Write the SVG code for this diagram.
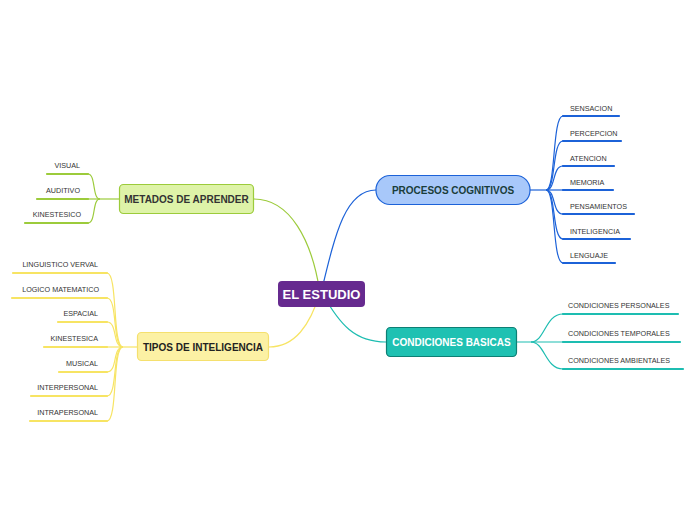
<svg xmlns="http://www.w3.org/2000/svg" width="696" height="520" viewBox="0 0 696 520">
<style>
.c{fill:none;stroke-width:1.2}
.u{fill:none;stroke-width:2.2;stroke-linecap:round}
.lime{stroke:#9ccb3b}.blue{stroke:#1c62d8}.yel{stroke:#f7e463}.teal{stroke:#1dbdb1}
.t{font-family:"Liberation Sans",Arial,sans-serif;font-size:7.2px;fill:#333}
.m{font-family:"Liberation Sans",Arial,sans-serif;font-size:10px;font-weight:bold;text-anchor:middle}
</style>
<rect width="696" height="520" fill="#ffffff"/>
<g id="connectors">
<path class="c lime" d="M320,293 C312,240 290,199 254,199"/>
<path class="c blue" d="M321,293 C335,235 345,190 376,190"/>
<path class="c yel" d="M320,293 C310,325 295,347 269,347"/>
<path class="c teal" d="M322,293 C340,325 355,342 386,342"/>
<!-- blue children -->
<path class="c blue" d="M530,190 L546,190"/>
<path class="c blue" d="M546,190 C556,190 552,116 563,116"/>
<path class="c blue" d="M546,190 C556,190 552,141 563,141"/>
<path class="c blue" d="M546,190 C556,190 552,166 563,166"/>
<path class="c blue" d="M546,190 L563,190"/>
<path class="c blue" d="M546,190 C556,190 552,214 563,214"/>
<path class="c blue" d="M546,190 C556,190 552,239 563,239"/>
<path class="c blue" d="M546,190 C556,190 552,263 563,263"/>
<path class="u blue" d="M563,116 H619 M563,141 H621 M563,166 H614 M563,190 H613 M563,214 H634 M563,239 H630 M563,263 H615"/>
<!-- teal children -->
<path class="c teal" d="M517,342 L563,342"/>
<path class="c teal" d="M531,342 C545,342 545,314 563,314"/>
<path class="c teal" d="M531,342 C545,342 545,369 563,369"/>
<path class="u teal" d="M563,314 H678 M563,342 H680 M563,369 H683"/>
<!-- lime children -->
<path class="c lime" d="M119,199 L88,199"/>
<path class="c lime" d="M100,199 C92,199 96,174 88,174"/>
<path class="c lime" d="M100,199 C92,199 96,223 88,223"/>
<path class="u lime" d="M47,174 H88 M37,199 H88 M25,223 H88"/>
<!-- yellow children -->
<path class="c yel" d="M137,347 L107,347"/>
<path class="c yel" d="M123,347 C112,347 118,273 107,273"/>
<path class="c yel" d="M123,347 C112,347 118,298 107,298"/>
<path class="c yel" d="M123,347 C112,347 118,322 107,322"/>
<path class="c yel" d="M123,347 C112,347 118,372 107,372"/>
<path class="c yel" d="M123,347 C112,347 118,396 107,396"/>
<path class="c yel" d="M123,347 C112,347 118,421 107,421"/>
<path class="u yel" d="M13,273 H107 M12,298 H107 M58,322 H107 M44,347 H107 M59,372 H107 M31,396 H107 M30,421 H107"/>
</g>
<g id="center">
<rect x="278" y="281" width="87" height="26" rx="4" fill="#662a8f"/>
<text x="321.5" y="298.5" class="m" style="font-size:13px;fill:#fff">EL ESTUDIO</text>
</g>
<g id="procesos">
<rect x="376" y="175.5" width="154" height="29" rx="14" fill="#a8c8fa" stroke="#1c62d8" stroke-width="1.2"/>
<text x="453" y="193.5" class="m" style="fill:#1a3d3a">PROCESOS COGNITIVOS</text>
</g>
<g id="condiciones">
<rect x="386.5" y="327.5" width="130" height="29" rx="4" fill="#1fc1b2" stroke="#0e7f74" stroke-width="1.2"/>
<text x="451.5" y="345.5" class="m" style="fill:#fff">CONDICIONES BASICAS</text>
</g>
<g id="metados">
<rect x="119.5" y="184.5" width="134" height="29" rx="4" fill="#def3a8" stroke="#9ccb3b" stroke-width="1.2"/>
<text x="186.5" y="202.5" class="m" style="fill:#333">METADOS DE APRENDER</text>
</g>
<g id="tipos">
<rect x="137.5" y="332.5" width="131" height="28" rx="4" fill="#fcf1a4" stroke="#f5e06e" stroke-width="1.2"/>
<text x="203" y="350.5" class="m" style="fill:#222">TIPOS DE INTELIGENCIA</text>
</g>
<g id="procesos-children">
<text class="t" x="570" y="111">SENSACION</text>
<text class="t" x="570" y="136">PERCEPCION</text>
<text class="t" x="570" y="161">ATENCION</text>
<text class="t" x="570" y="185">MEMORIA</text>
<text class="t" x="570" y="209">PENSAMIENTOS</text>
<text class="t" x="570" y="234">INTELIGENCIA</text>
<text class="t" x="570" y="258">LENGUAJE</text>
</g>
<g id="condiciones-children">
<text class="t" x="568" y="308">CONDICIONES PERSONALES</text>
<text class="t" x="568" y="336">CONDICIONES TEMPORALES</text>
<text class="t" x="568" y="363">CONDICIONES AMBIENTALES</text>
</g>
<g id="metados-children" style="text-anchor:end">
<text class="t" x="80" y="168" text-anchor="end">VISUAL</text>
<text class="t" x="80" y="193" text-anchor="end">AUDITIVO</text>
<text class="t" x="81" y="217" text-anchor="end">KINESTESICO</text>
</g>
<g id="tipos-children">
<text class="t" x="98" y="267" text-anchor="end">LINGUISTICO VERVAL</text>
<text class="t" x="99" y="292" text-anchor="end">LOGICO MATEMATICO</text>
<text class="t" x="98" y="316" text-anchor="end">ESPACIAL</text>
<text class="t" x="98" y="341" text-anchor="end">KINESTESICA</text>
<text class="t" x="98" y="366" text-anchor="end">MUSICAL</text>
<text class="t" x="98" y="390" text-anchor="end">INTERPERSONAL</text>
<text class="t" x="98" y="415" text-anchor="end">INTRAPERSONAL</text>
</g>
</svg>
